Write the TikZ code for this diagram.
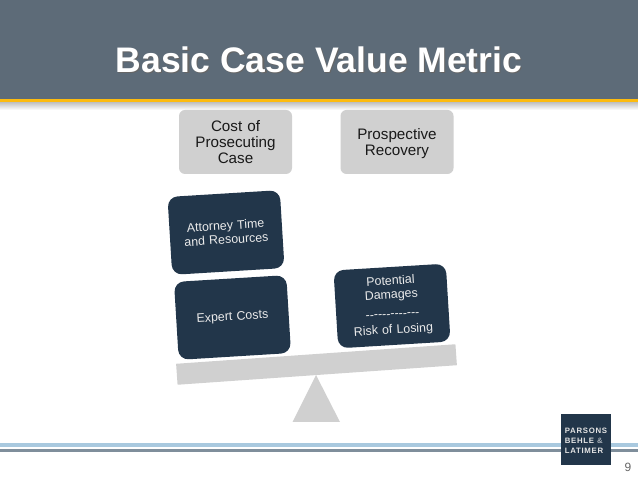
\documentclass[tikz,border=0pt]{standalone}
\usepackage{fontspec}
\setmainfont{Liberation Sans}
\newfontfamily\logofont[LetterSpace=9,Ligatures=NoCommon]{Liberation Sans}
\definecolor{hdr}{HTML}{5D6B78}
\definecolor{gold}{HTML}{FDBB0F}
\definecolor{navy}{HTML}{22364A}
\definecolor{lgrey}{HTML}{D0D0D0}
\definecolor{lblue}{HTML}{A9C9DF}
\definecolor{sgrey}{HTML}{7F8E9B}
\tikzset{
  greybox/.style={rounded corners=6pt,fill=lgrey,minimum width=113pt,minimum height=64pt,inner sep=2pt,align=center,text width=105pt,font=\fontsize{15.2}{16}\selectfont,text=black!90},
  navybox/.style={rounded corners=10pt,fill=navy,rotate=3.5,minimum width=112.5pt,minimum height=78pt,inner sep=2pt,align=center,text width=104pt,font=\fontsize{12.4}{14}\selectfont,text=white!92!black},
  beam/.style={fill=lgrey,rotate=4,minimum width=280pt,minimum height=21pt,inner sep=0pt},
}
\begin{document}
\begin{tikzpicture}[x=1pt,y=-1pt]
\useasboundingbox (0,0) rectangle (638,478);
\fill[white] (0,0) rectangle (638,478);
% header
\shade[top color=black!25,bottom color=white] (0,102) rectangle (638,110);
\fill[hdr] (0,0) rectangle (638,99);
\fill[gold] (0,99) rectangle (638,102.5);
\node[text=black!60,font=\bfseries\fontsize{35.5}{37}\selectfont,anchor=center] (titleshadow) at (320.2,61.2) {Basic Case Value Metric};
\node[text=white,font=\bfseries\fontsize{35.5}{37}\selectfont,anchor=center] (title) at (319,60) {Basic Case Value Metric};
% footer lines
\fill[lblue] (0,443.5) rectangle (638,447);
\fill[sgrey] (0,449) rectangle (638,452);
% top boxes
\node[greybox] (cost) at (235.5,142) {Cost of\\Prosecuting\\Case};
\node[greybox] (recovery) at (397,142) {\rule{0pt}{15pt}Prospective\\Recovery};
% scale
\node[beam] (beamnode) at (316.5,364.5) {};
\fill[lgrey] (316,375) -- (340,422) -- (292.5,422) -- cycle;
% weights
\node[navybox] (attorney) at (226,232.5) {Attorney Time\\and Resources};
\node[navybox] (expert) at (232.5,317.5) {Expert Costs};
\node[navybox] (damages) at (392,306) {Potential\\Damages\\[5pt]{-}{-}{-}{-}{-}{-}{-}{-}{-}{-}{-}{-}{-}\\[2pt]Risk of Losing};
% logo
\node[fill=navy,minimum width=50pt,minimum height=51pt,inner sep=0pt] (logo) at (586,439.5) {};
\node[font=\logofont\bfseries\fontsize{7.8}{9.9}\selectfont,text=white!90!black,align=left,anchor=center,inner sep=0pt] (logotext) at (586,440.5) {PARSONS\\BEHLE \textcolor{white!60!navy}{\&}\\LATIMER};
\node[font=\fontsize{12}{12}\selectfont,text=black!60,anchor=center] (pagenum) at (628,467) {9};
\end{tikzpicture}
\end{document}
